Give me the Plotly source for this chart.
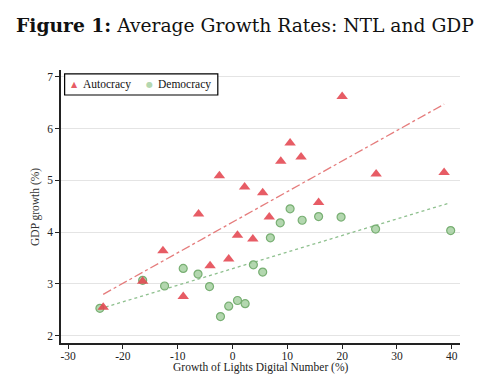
import plotly.graph_objects as go

# Autocracy (triangles)
auto_x = [-23.6, -16.4, -12.7, -9.0, -6.2, -4.1, -2.4, -0.7, 0.9, 2.2, 3.7, 5.5, 6.7, 8.8, 10.5, 12.5, 15.7, 20.0, 26.2, 38.6]
auto_y = [2.55, 3.05, 3.64, 2.76, 4.35, 3.35, 5.09, 3.48, 3.94, 4.87, 3.87, 4.76, 4.29, 5.37, 5.72, 5.45, 4.57, 6.62, 5.12, 5.15]

# Democracy (circles)
demo_x = [-24.2, -16.4, -12.4, -9.0, -6.3, -4.2, -2.2, -0.7, 0.9, 2.3, 3.8, 5.5, 6.9, 8.7, 10.5, 12.7, 15.7, 19.8, 26.1, 39.8]
demo_y = [2.53, 3.07, 2.96, 3.30, 3.19, 2.95, 2.37, 2.57, 2.68, 2.62, 3.37, 3.23, 3.89, 4.18, 4.45, 4.23, 4.30, 4.29, 4.06, 4.03]

# Fitted lines: endpoints
auto_fit_x = [-23.6, 38.6]
auto_fit_y = [2.80, 6.47]
demo_fit_x = [-24.2, 39.5]
demo_fit_y = [2.52, 4.56]

y_ticks = [2, 3, 4, 5, 6, 7]
x_ticks = [-30, -20, -10, 0, 10, 20, 30, 40]
x_tick_text = ["-30", "-20", "-10", "0", "10", "20", "30", "40"]

serif = "Liberation Serif"
RED = "rgba(228,70,80,0.88)"
GREEN_FILL = "rgba(160,205,155,0.8)"
GREEN_LINE = "rgba(115,172,110,0.95)"

fig = go.Figure()
fig.add_trace(go.Scatter(x=auto_fit_x, y=auto_fit_y, mode="lines",
                         line=dict(color="rgba(226,110,110,0.9)", width=1.3, dash="dashdot"),
                         showlegend=False, hoverinfo="skip"))
fig.add_trace(go.Scatter(x=demo_fit_x, y=demo_fit_y, mode="lines",
                         line=dict(color="rgba(130,185,130,0.9)", width=1.3, dash="dot"),
                         showlegend=False, hoverinfo="skip"))
fig.add_trace(go.Scatter(x=demo_x, y=demo_y, mode="markers", name="Democracy",
                         marker=dict(symbol="circle", size=8, color=GREEN_FILL,
                                     line=dict(color=GREEN_LINE, width=1.2)),
                         showlegend=False))
fig.add_trace(go.Scatter(x=auto_x, y=auto_y, mode="markers", name="Autocracy",
                         marker=dict(symbol="triangle-up", size=10, color=RED, line=dict(width=0)),
                         showlegend=False))

# Manual legend (box + symbols + labels), in paper coordinates
fig.add_shape(type="rect", xref="paper", yref="paper", x0=0.0091, x1=0.393, y0=0.9085, y1=0.986,
              line=dict(color="black", width=1.2), fillcolor="white", layer="above")
legend_items = [("▲", RED, 0.034, "Autocracy", 0.05), ("●", GREEN_FILL, 0.221, "Democracy", 0.238)]
for sym, col, sx, label, tx in legend_items:
    fig.add_annotation(x=sx, y=0.947, xref="paper", yref="paper", text=sym, showarrow=False,
                       font=dict(size=8, color=col, family="DejaVu Sans"), xanchor="center", yanchor="middle")
    fig.add_annotation(x=tx, y=0.947, xref="paper", yref="paper", text=label, showarrow=False,
                       font=dict(size=11.5, color="#111", family=serif), xanchor="left", yanchor="middle")

# Axis titles
fig.add_annotation(x=0.5, y=-0.088, xref="paper", yref="paper", text="Growth of Lights Digital Number (%)",
                   showarrow=False, font=dict(size=11.5, color="#222", family=serif),
                   xanchor="center", yanchor="middle")
fig.add_annotation(x=-0.064, y=0.5, xref="paper", yref="paper", text="GDP growth (%)", textangle=-90,
                   showarrow=False, font=dict(size=11.5, color="#333", family=serif),
                   xanchor="center", yanchor="middle")

fig.update_layout(
    width=501, height=389,
    paper_bgcolor="white", plot_bgcolor="white",
    margin=dict(l=61, r=41, t=70, b=46, autoexpand=False),
    font=dict(family=serif, size=11, color="#222"),
    title=dict(text="<b>Figure 1:</b> Average Growth Rates: NTL and GDP",
               x=0.489, xanchor="center", y=0.935, yanchor="middle", xref="container",
               font=dict(family="DejaVu Serif", size=18.7, color="#111")),
    showlegend=False,
)
fig.update_xaxes(range=[-31.3, 41.5], tickvals=x_ticks, ticktext=x_tick_text, ticks="outside", ticklen=4,
                 tickcolor="#222", showline=True, linecolor="#222", linewidth=1.5, showgrid=False,
                 zeroline=False, automargin=False, ticklabelstandoff=-3,
                 tickfont=dict(family=serif, size=11.5))
fig.update_yaxes(range=[1.86, 7.13], tickvals=y_ticks, ticks="outside", ticklen=4, tickcolor="#222",
                 showline=True, linecolor="#222", linewidth=1.5, showgrid=True,
                 gridcolor="#e4e4e4", gridwidth=1, zeroline=False, automargin=False,
                 tickfont=dict(family=serif, size=11.5))

fig.write_html("out.html", config={"displayModeBar": False},
               post_script="document.body.style.margin='0';")
